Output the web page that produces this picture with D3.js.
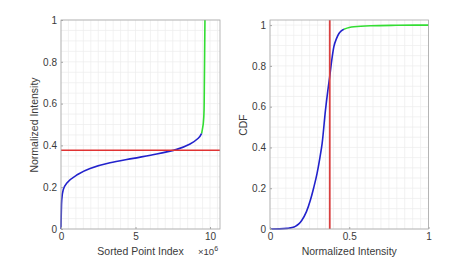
<!DOCTYPE html>
<html>
<head>
<meta charset="utf-8">
<script src="https://cdn.jsdelivr.net/npm/d3@7"></script>
<style>
  body { margin: 0; background: #fff; }
  text { font-family: "Liberation Sans", Arial, sans-serif; fill: #3a3a3a; }
</style>
</head>
<body>
<script>
// left panel: sorted intensity vs point index (index in units of 1e6)
var sortedBlue = [[0,0],[0.02,0.08],[0.05,0.14],[0.15,0.188],[0.38,0.219],[1.05,0.258],[1.95,0.29],[3.29,0.317],
                  [4.85,0.338],[6.42,0.359],[7.77,0.381],[8.66,0.407],[9.21,0.434],[9.44,0.458]];
var sortedGreen = [[9.44,0.458],[9.55,0.506],[9.6,0.569],[9.62,0.7],[9.64,0.85],[9.66,1.0]];
var threshold = 0.377;

// right panel: cdf of normalized intensity
var cdfBlue = [[0,0],[0.06,0.0005],[0.108,0.003],[0.14,0.007],[0.16,0.013],[0.18,0.024],[0.2,0.042],[0.23,0.085],
               [0.255,0.142],[0.275,0.2],[0.297,0.273],[0.315,0.35],[0.329,0.42],[0.35,0.583],[0.365,0.68],
               [0.378,0.755],[0.39,0.83],[0.403,0.894],[0.42,0.935],[0.435,0.959],[0.45,0.972],[0.466,0.98]];
var cdfGreen = [[0.466,0.98],[0.5,0.988],[0.53,0.992],[0.635,0.997],[0.8,0.999],[1,1]];

var leftXTicks = [0, 5, 10], leftYTicks = [0, 0.2, 0.4, 0.6, 0.8, 1];
var rightXTicks = [0, 0.5, 1], rightYTicks = [0, 0.2, 0.4, 0.6, 0.8, 1];

var svg = d3.select("body").append("svg").attr("width", 474).attr("height", 258);

function panel(opt) {
  var x = d3.scaleLinear().domain(opt.xdom).range([opt.x0, opt.x1]);
  var y = d3.scaleLinear().domain(opt.ydom).range([229, 20]);
  var g = svg.append("g");

  // minor grid
  g.append("g").selectAll("line").data(d3.range(opt.xdom[0], opt.xdom[1] + 1e-9, opt.xminor))
    .enter().append("line")
      .attr("x1", d => x(d)).attr("x2", d => x(d)).attr("y1", 20).attr("y2", 229)
      .attr("stroke", "#ececec").attr("stroke-width", 0.7);
  g.append("g").selectAll("line").data(d3.range(0, opt.ydom[1] + 1e-9, 0.05))
    .enter().append("line")
      .attr("y1", d => y(d)).attr("y2", d => y(d)).attr("x1", opt.x0).attr("x2", opt.x1)
      .attr("stroke", "#ececec").attr("stroke-width", 0.7);

  var line = d3.line().x(d => x(d[0])).y(d => y(d[1])).curve(d3.curveMonotoneX);
  if (opt.vertical) line = d3.line().x(d => x(d[0])).y(d => y(d[1])).curve(d3.curveMonotoneY);

  g.append("path").datum(opt.blue).attr("d", line).attr("fill", "none")
    .attr("stroke", "#2222cc").attr("stroke-width", 1.6);
  g.append("path").datum(opt.green).attr("d", line).attr("fill", "none")
    .attr("stroke", "#33dd33").attr("stroke-width", 1.6);

  // threshold
  if (opt.vertical) {
    g.append("line").attr("x1", opt.x0).attr("x2", opt.x1)
      .attr("y1", y(threshold)).attr("y2", y(threshold))
      .attr("stroke", "#e03333").attr("stroke-width", 1.6);
  } else {
    g.append("line").attr("x1", x(threshold)).attr("x2", x(threshold))
      .attr("y1", 20).attr("y2", 229)
      .attr("stroke", "#d84040").attr("stroke-width", 1.8);
  }

  // box + axes
  g.append("rect").attr("x", opt.x0).attr("y", 20).attr("width", opt.x1 - opt.x0).attr("height", 209)
    .attr("fill", "none").attr("stroke", "#a6a6a6").attr("stroke-width", 0.8);

  var xa = g.append("g").attr("transform", "translate(0,229)")
    .call(d3.axisBottom(x).tickValues(opt.xticks).tickSize(-2).tickPadding(4).tickFormat(d3.format("")));
  var ya = g.append("g").attr("transform", "translate(" + opt.x0 + ",0)")
    .call(d3.axisLeft(y).tickValues(opt.yticks).tickSize(-2).tickPadding(4).tickFormat(d3.format("")));
  [xa, ya].forEach(function(a) {
    a.select(".domain").remove();
    a.selectAll("line").attr("stroke", "#a6a6a6");
    a.selectAll("text").attr("font-size", 10).attr("fill", "#3a3a3a")
      .style("font-family", "'Liberation Sans', Arial, sans-serif");
  });

  g.append("text").attr("x", (opt.x0 + opt.x1) / 2).attr("y", 255)
    .attr("text-anchor", "middle").attr("font-size", 10.5).text(opt.xlabel);
  g.append("text").attr("transform", "translate(" + (opt.x0 - 23) + ",125) rotate(-90)")
    .attr("text-anchor", "middle").attr("font-size", 10.5).text(opt.ylabel);
  return x;
}

panel({ x0: 61, x1: 220, xdom: [0, 10.67], ydom: [0, 1], xminor: 0.5,
        xticks: leftXTicks, yticks: leftYTicks, blue: sortedBlue, green: sortedGreen,
        vertical: true, xlabel: "Sorted Point Index", ylabel: "Normalized Intensity" });

var t = svg.append("text").attr("x", 198).attr("y", 255).attr("font-size", 9.5);
t.append("tspan").text("\u00d710");
t.append("tspan").attr("font-size", 7).attr("dy", -4).text("6");

panel({ x0: 270, x1: 428.5, xdom: [0, 1], ydom: [0, 1.025], xminor: 0.05,
        xticks: rightXTicks, yticks: rightYTicks, blue: cdfBlue, green: cdfGreen,
        vertical: false, xlabel: "Normalized Intensity", ylabel: "CDF" });
</script>
</body>
</html>
